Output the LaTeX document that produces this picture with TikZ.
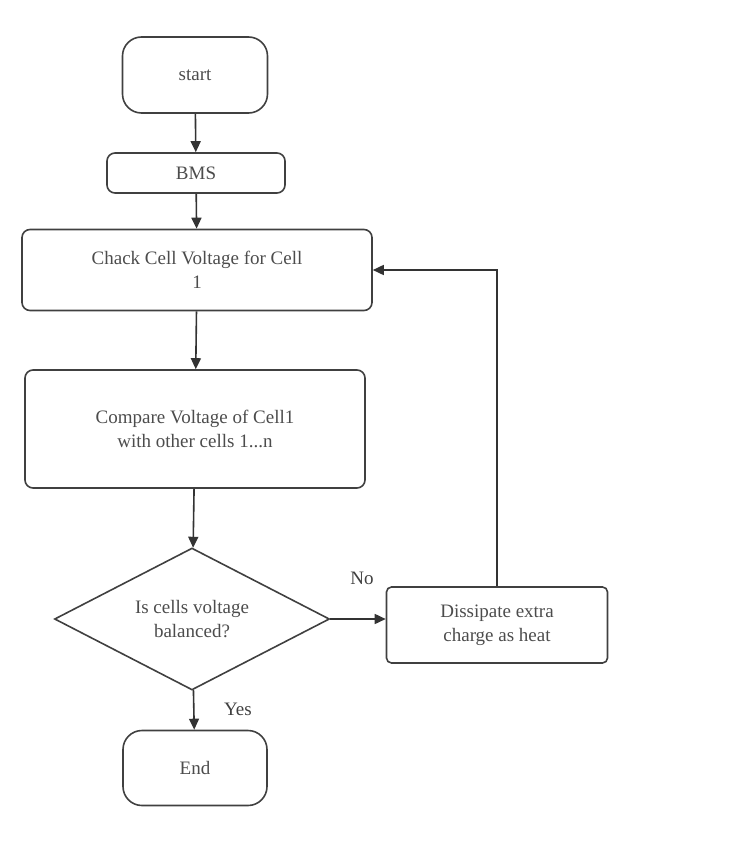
\documentclass[tikz,border=0pt]{standalone}
\usepackage{fontspec}
\setmainfont{Liberation Serif}
\usetikzlibrary{shapes.geometric,arrows.meta}
\begin{document}
\begin{tikzpicture}[x=1pt,y=-1pt,
  box/.style={draw=black!75,line width=1.6pt,rounded corners=8pt,align=center,text=black!70,font=\fontsize{19}{24}\selectfont,inner sep=0pt},
  term/.style={box,rounded corners=19pt},
  arr/.style={draw=black!80,line width=1.6pt,-{Triangle[length=11pt,width=10pt]}},
  lbl/.style={text=black!75,font=\fontsize{19}{24}\selectfont}]
\useasboundingbox (0,0) rectangle (751,842);
\node[term,minimum width=145pt,minimum height=76pt] (start) at (195,75) {start};
\node[box,minimum width=178pt,minimum height=40pt] (bms) at (196,173) {BMS};
\node[box,minimum width=350pt,minimum height=81pt] (check) at (197,270) {Chack Cell Voltage for Cell\\1};
\node[box,minimum width=340pt,minimum height=118pt] (cmp) at (195,429) {Compare Voltage of Cell1\\with other cells 1...n};
\node[draw=black!75,line width=1.6pt,diamond,aspect=1.94,minimum width=275pt,minimum height=142pt,inner sep=0pt,align=center,text=black!70,font=\fontsize{19}{24}\selectfont] (dec) at (192,619) {Is cells voltage\\balanced?};
\node[box,rounded corners=5pt,minimum width=221pt,minimum height=76pt] (dis) at (497,625) {Dissipate extra\\charge as heat};
\node[term,minimum width=144pt,minimum height=75pt] (end) at (195,768) {End};
\draw[arr] (start) -- (bms);
\draw[arr] (bms) -- (check);
\draw[arr] (check) -- (cmp);
\draw[arr] (cmp) -- (dec);
\draw[arr] (dec.east) -- (dis.west |- dec.east);
\draw[arr] (dec) -- (end);
\draw[arr] (dis.north) |- (check.east);
\node[lbl] (no) at (362,578) {No};
\node[lbl] (yes) at (238,709) {Yes};
\end{tikzpicture}
\end{document}
